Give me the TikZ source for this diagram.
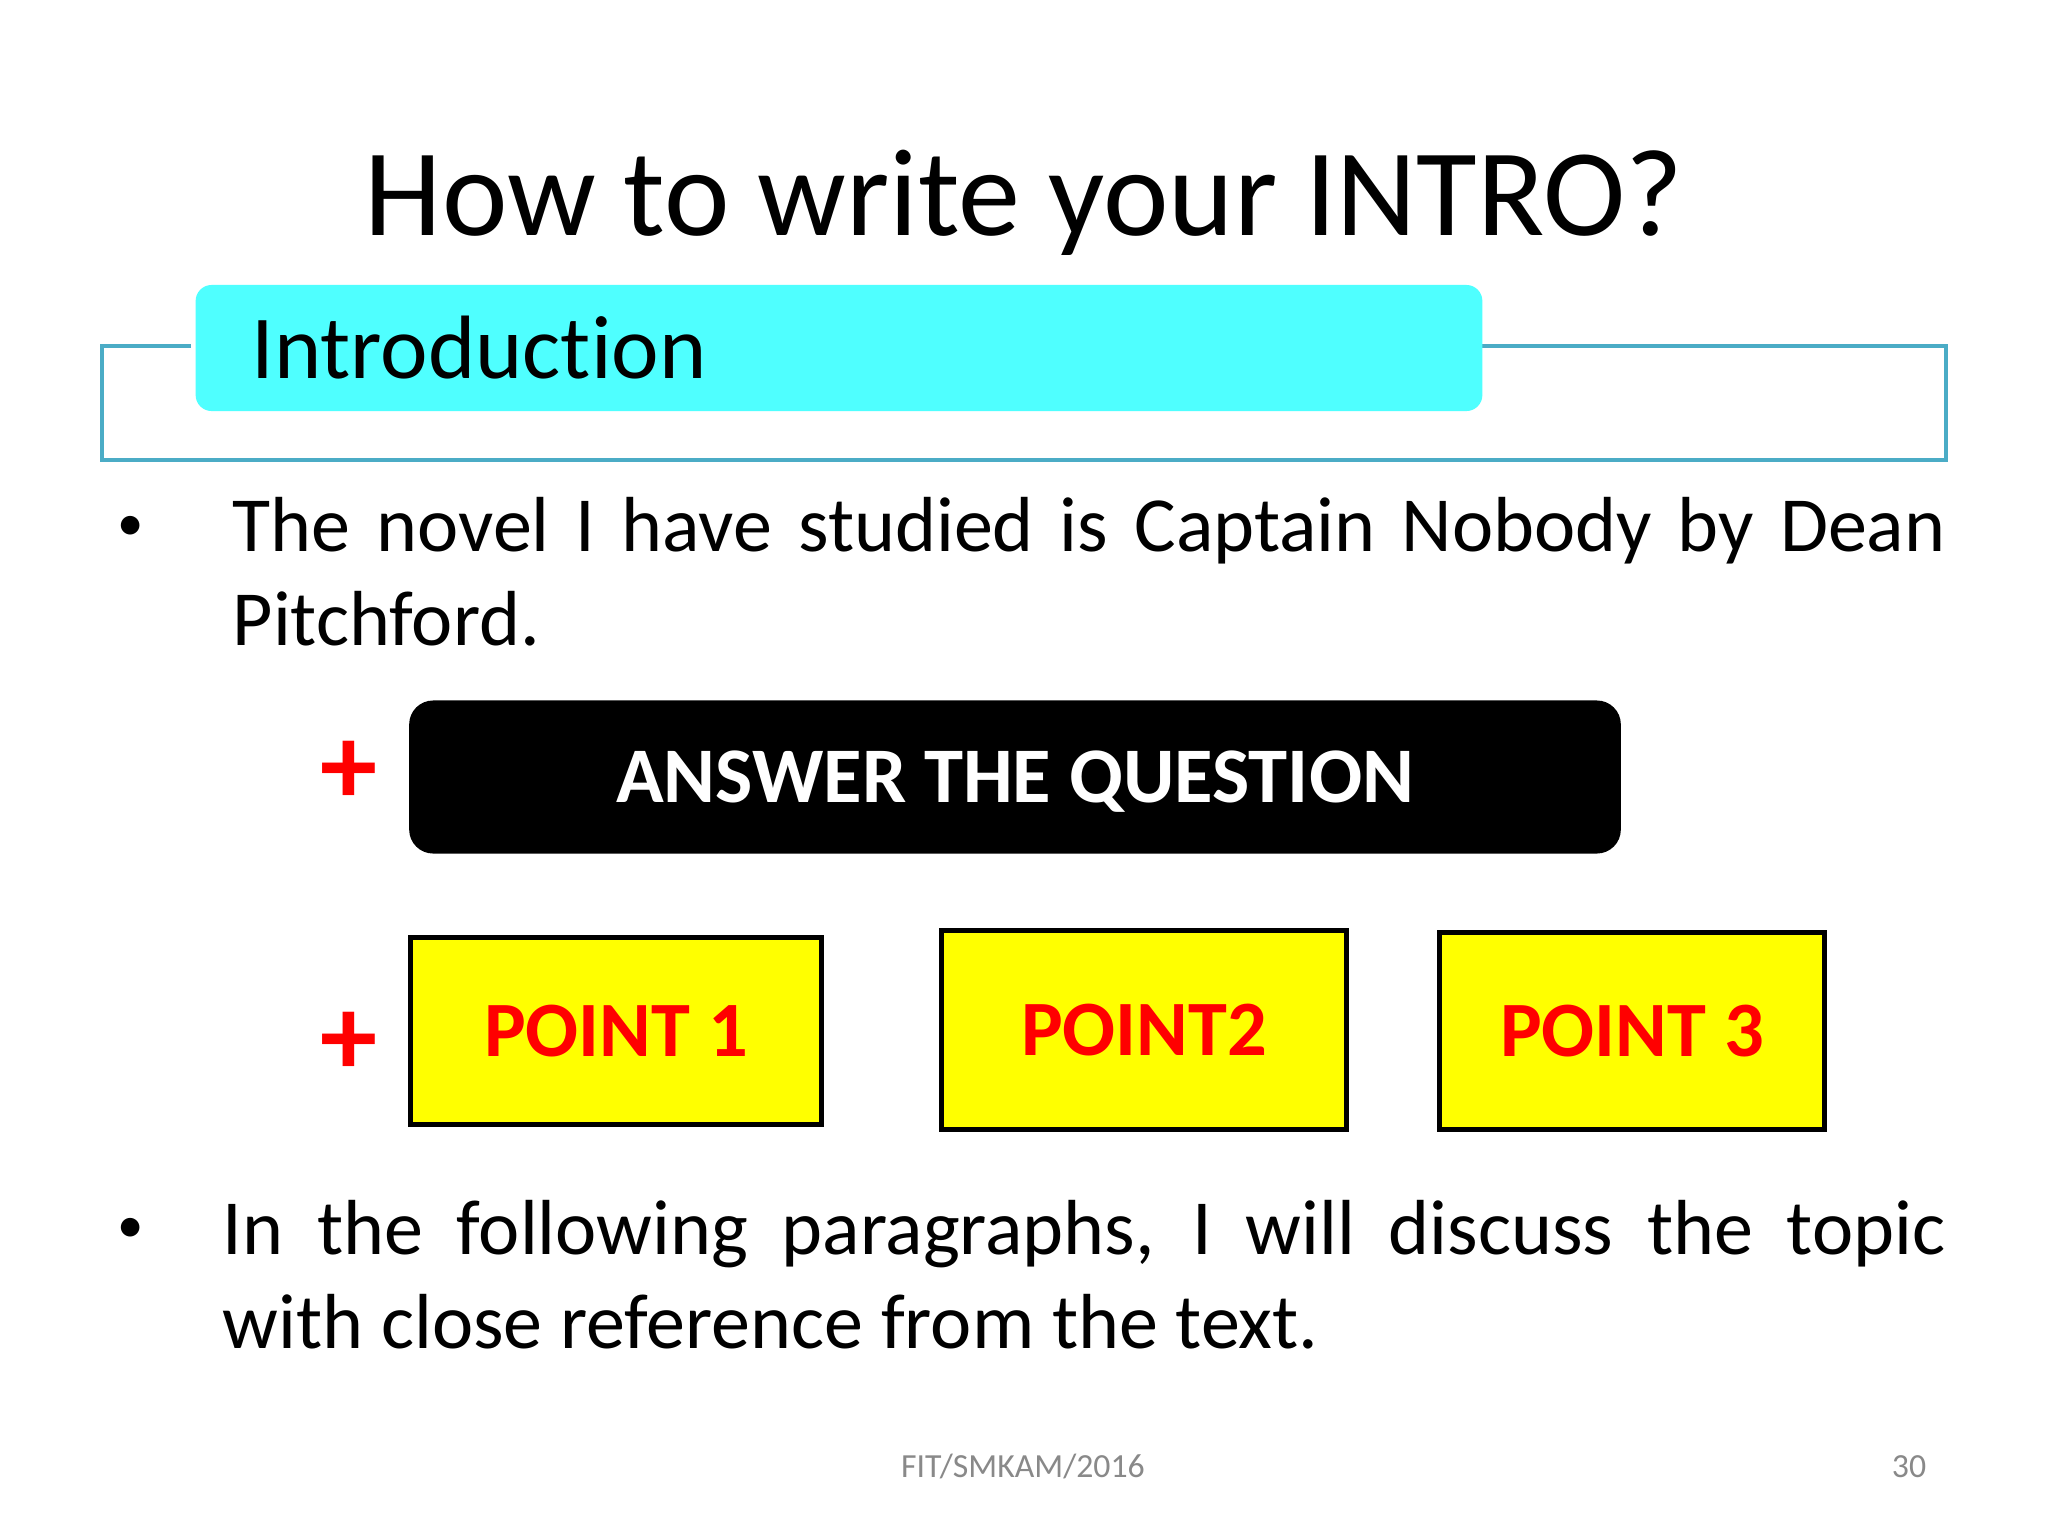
\documentclass[tikz,border=0pt]{standalone}
\usepackage{fontspec}
\setmainfont{Carlito}[Ligatures={NoCommon,NoContextual,TeX},Contextuals=NoAlternate]
\definecolor{introcyan}{RGB}{79,255,255}
\definecolor{framebl}{RGB}{75,172,198}
\definecolor{footgray}{RGB}{137,137,137}
\definecolor{pointyel}{RGB}{255,255,0}
\begin{document}
\begin{tikzpicture}[
  x=0.01cm, y=-0.01cm,
  pointbox/.style={rectangle, draw=black, line width=1.4pt, fill=pointyel, text=red, text depth=0pt, font=\fontsize{22.3}{27}\selectfont\bfseries},
  plussign/.style={text=red, inner sep=0pt, font=\fontsize{32.5}{36}\selectfont\bfseries},
  bulletdot/.style={inner sep=0pt, font=\fontsize{15}{18}\selectfont},
  para/.style={anchor=base west, inner sep=0pt, align=justify, font=\fontsize{22.2}{27}\selectfont}
]
\useasboundingbox[fill=white] (0,0) rectangle (2048,1536);
\node[anchor=base, font=\fontsize{35.3}{40}\selectfont] (title) at (1024,235) {How to write your INTRO?};
% header band
\draw[framebl, line width=1.2pt] (191,346) -- (102,346) -- (102,460) -- (1946,460) -- (1946,346) -- (1477,346);
\node[fill=introcyan, rounded corners=0.16cm, minimum width=12.86cm, minimum height=1.26cm, inner xsep=0.56cm, text width=11.74cm, align=left, font=\fontsize{25.6}{30}\selectfont] (intro) at (839,348) {Introduc\kern0ptt\kern0ption};
% first bullet
\node[bulletdot] (dot1) at (131,528) {•};
\node[para, text width=17.12cm] (novel) at (232,551) {The novel I have studied is Captain Nobody by Dean Pitchford.};
% answer + points
\node[plussign] (plus1) at (349,773) {+};
\node[fill=black, rounded corners=0.24cm, minimum width=12.11cm, minimum height=1.53cm, text=white, text depth=0pt, font=\fontsize{22.4}{27}\selectfont\bfseries] (answer) at (1015,777) {ANSWER THE QUESTION};
\node[plussign] (plus2) at (349,1044) {+};
\node[pointbox, minimum width=4.1cm, minimum height=1.86cm] (p1) at (616,1031) {POINT 1};
\node[pointbox, minimum width=4.04cm, minimum height=1.99cm] (p2) at (1144,1030) {POINT2};
\node[pointbox, minimum width=3.84cm, minimum height=1.96cm] (p3) at (1632,1031) {POINT 3};
% second bullet
\node[bulletdot] (dot2) at (131,1230) {•};
\node[para, text width=17.22cm] (paras) at (222,1254) {In the following paragraphs, I will discuss the topic\linebreak with close reference from the text.};
% footer
\node[anchor=base, text=footgray, font=\fontsize{9.6}{11}\selectfont] (foot) at (1023,1477) {FIT/SMKAM/2016};
\node[anchor=base, text=footgray, font=\fontsize{9.6}{11}\selectfont] (pagenum) at (1909,1477) {30};
\end{tikzpicture}
\end{document}
